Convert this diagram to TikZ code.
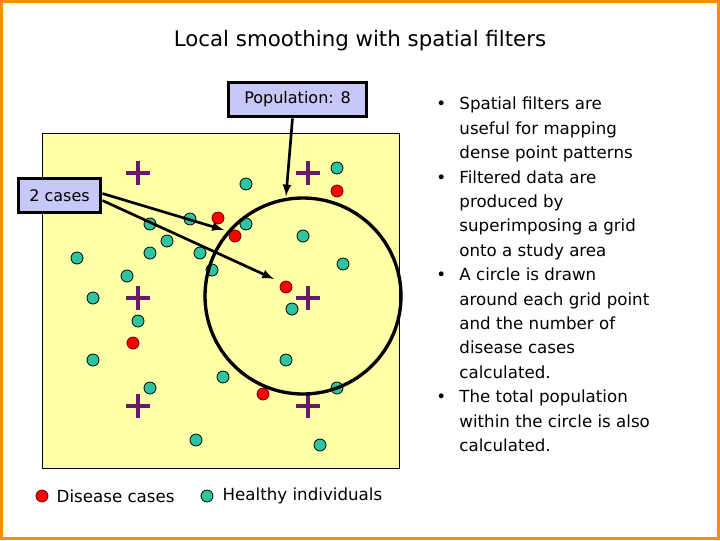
\documentclass[tikz,border=0pt]{standalone}
\usepackage{fontspec}
\setmainfont{DejaVu Sans}
\definecolor{gfill}{HTML}{2EC4A0}
\definecolor{yfill}{HTML}{FFFF99}
\definecolor{bfill}{HTML}{C8C8F8}
\definecolor{pl}{HTML}{6B1A6B}
\begin{document}
\begin{tikzpicture}[x=0.75pt,y=-0.75pt,
  gdot/.style={circle,draw=black,fill=gfill,inner sep=0pt,minimum size=9pt,line width=0.6pt},
  rdot/.style={circle,draw=black!60!red,fill=red,inner sep=0pt,minimum size=9pt,line width=0.6pt},
  lbox/.style={draw=black,line width=2.4pt,fill=bfill,inner sep=3pt,minimum height=26pt,font=\fontsize{12}{13}\selectfont},
  arr/.style={-latex,line width=2pt},
  btxt/.style={anchor=north west,align=left,font=\fontsize{12.5}{18.3}\selectfont,inner sep=0pt}]
\fill[orange!90!yellow] (0,0) rectangle (720,540);
\fill[white] (3,3) rectangle (717,537);
\node (title) at (360,41) {\fontsize{16}{18}\selectfont Local smoothing with spatial filters};
\draw[fill=yfill!85!white,line width=0.6pt] (42,133) rectangle (399,468);
% plus marks
\foreach \x/\y [count=\i] in {138/173,308/173,138/298,308/298,138/406,308/406}{
  \coordinate (p\i) at (\x,\y);
  \draw[pl,line width=3pt] (\x-12,\y) -- (\x+12,\y) (\x,\y-12) -- (\x,\y+12);}
% green dots
\foreach \x/\y [count=\i] in {337/168,246/184,190/219,150/224,246/224,167/241,150/253,77/258,200/253,212/270,303/236,343/264,127/276,93/298,292/309,138/321,93/360,286/360,223/377,150/388,337/388,196/440,320/445}
  \node[gdot] (g\i) at (\x,\y) {};
\foreach \x/\y [count=\i] in {337/191,218/218,235/236,286/287,133/343,263/394}
  \node[rdot] (r\i) at (\x,\y) {};
\node[circle,draw=black,line width=2.5pt,minimum size=147pt,inner sep=0pt] (circ) at (303,296) {};
\node[lbox,minimum width=104pt] (pop) at (297.5,99.5) {Population: 8};
\node[lbox,minimum width=62pt] (cases) at (59.5,195.5) {2 cases};
\coordinate (c1) at (224,230);
\coordinate (c2) at (274,279);
\draw[arr] (pop.south) ++(-5,0) coordinate (ps) -- (circ.north -| 286,0) ;
\draw[arr] (cases.east) ++(0,-2) -- (c1);
\draw[arr] (cases.east) ++(0,5) -- (c2);
\node[rdot] (lr) at (42,496) {};
\node[anchor=west,font=\fontsize{12.5}{14}\selectfont] (lrt) at (52,496) {Disease cases};
\node[gdot] (lg) at (207,496) {};
\node[anchor=west,font=\fontsize{12.5}{14}\selectfont] (lgt) at (218,496) {Healthy individuals};
\node[btxt] (b) at (436,97) {%
\textbullet\hspace{0.8em}Spatial filters are\\
\hphantom{\textbullet\hspace{0.8em}}useful for mapping\\
\hphantom{\textbullet\hspace{0.8em}}dense point patterns\\
\textbullet\hspace{0.8em}Filtered data are\\
\hphantom{\textbullet\hspace{0.8em}}produced by\\
\hphantom{\textbullet\hspace{0.8em}}superimposing a grid\\
\hphantom{\textbullet\hspace{0.8em}}onto a study area\\
\textbullet\hspace{0.8em}A circle is drawn\\
\hphantom{\textbullet\hspace{0.8em}}around each grid point\\
\hphantom{\textbullet\hspace{0.8em}}and the number of\\
\hphantom{\textbullet\hspace{0.8em}}disease cases\\
\hphantom{\textbullet\hspace{0.8em}}calculated.\\
\textbullet\hspace{0.8em}The total population\\
\hphantom{\textbullet\hspace{0.8em}}within the circle is also\\
\hphantom{\textbullet\hspace{0.8em}}calculated.};
\end{tikzpicture}
\end{document}
